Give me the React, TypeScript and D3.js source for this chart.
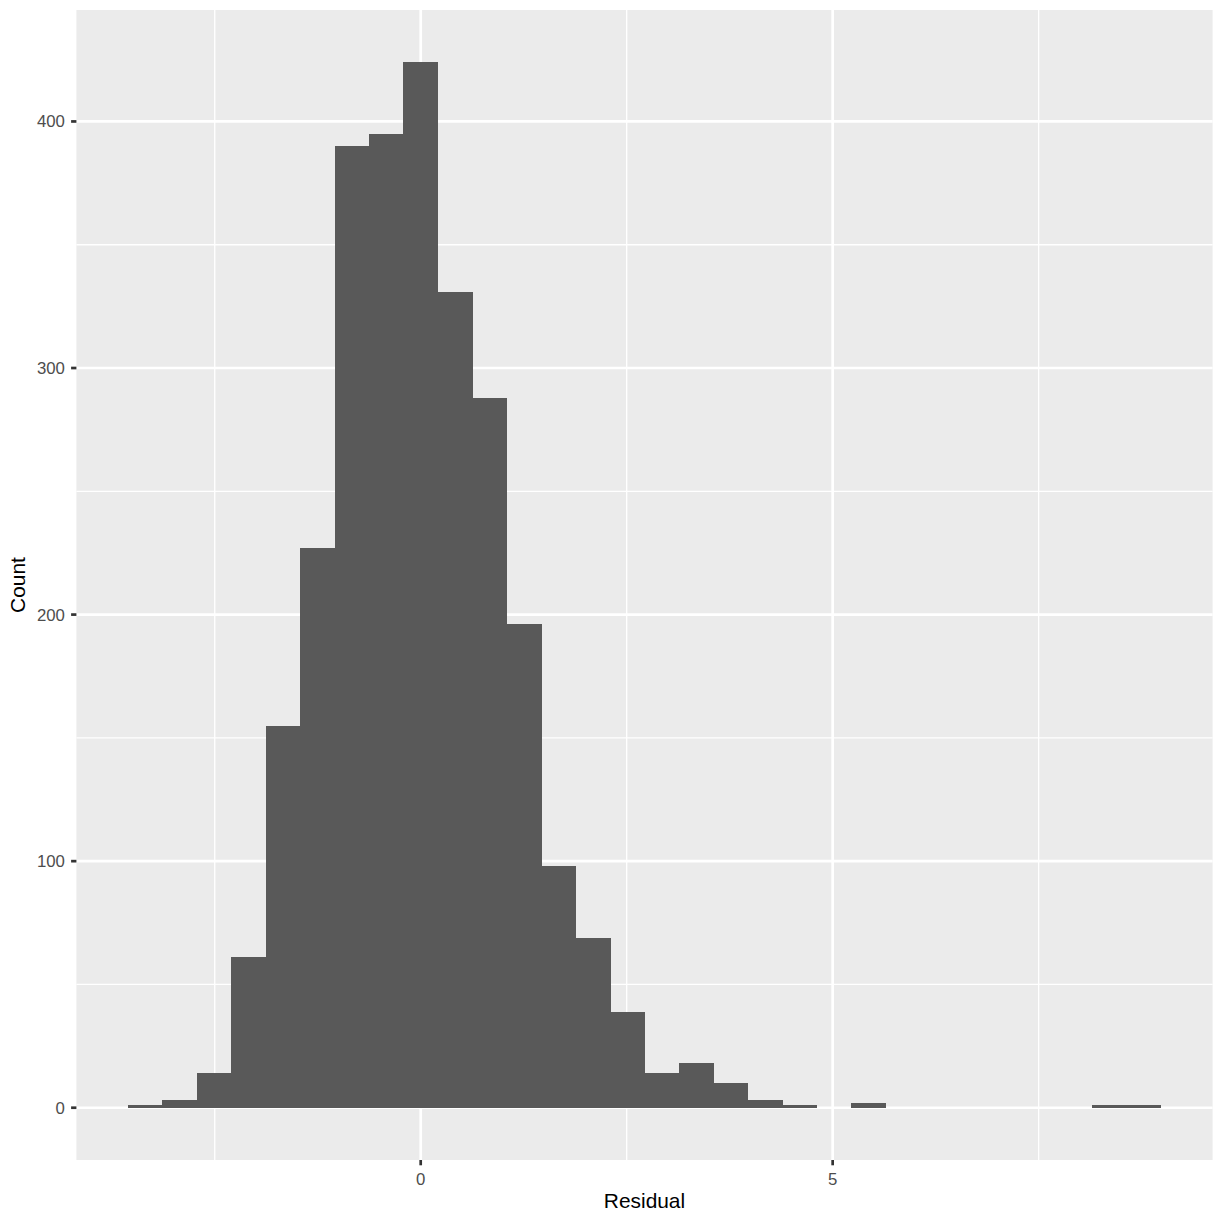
import React from "react";
import * as d3 from "d3";

// Histogram data (30 bins, equal width)
const binStart = -3.552;
const binWidth = 0.41788;
const counts = [1, 3, 14, 61, 155, 227, 390, 395, 424, 331, 288, 196, 98, 69, 39, 14, 18, 10, 3, 1, 0, 2, 0, 0, 0, 0, 0, 0, 1, 1];

const xMajorTicks = [0, 5];
const xMinorTicks = [-2.5, 2.5, 7.5];
const yMajorTicks = [0, 100, 200, 300, 400];
const yMinorTicks = [50, 150, 250, 350];

const xTitle = "Residual";
const yTitle = "Count";

const W = 1224;
const H = 1224;
const panel = { left: 76.4, right: 1212.6, top: 10, bottom: 1160 };
const FONT = "'Liberation Sans', Arial, Helvetica, sans-serif";

export default function App() {
  const bins = counts.map((c, i) => ({
    x0: binStart + i * binWidth,
    x1: binStart + (i + 1) * binWidth,
    count: c,
  }));
  const xMin = bins[0].x0;
  const xMax = bins[bins.length - 1].x1;
  const xPad = (xMax - xMin) * 0.05;
  const yMax = d3.max(counts) as number;
  const yPad = yMax * 0.05;

  const x = d3.scaleLinear().domain([xMin - xPad, xMax + xPad]).range([panel.left, panel.right]);
  const y = d3.scaleLinear().domain([-yPad, yMax + yPad]).range([panel.bottom, panel.top]);

  const tickFont = 16.8;
  const titleFont = 20.9;

  return (
    <svg width={W} height={H} style={{ position: "absolute", left: 0, top: 0 }} xmlns="http://www.w3.org/2000/svg">
      <rect x={0} y={0} width={W} height={H} fill="#ffffff" />
      <rect x={panel.left} y={panel.top} width={panel.right - panel.left} height={panel.bottom - panel.top} fill="#EBEBEB" />
      {/* minor grid */}
      {yMinorTicks.map((t) => (
        <line key={"ym" + t} x1={panel.left} x2={panel.right} y1={y(t)} y2={y(t)} stroke="#ffffff" strokeWidth={1.35} />
      ))}
      {xMinorTicks.map((t) => (
        <line key={"xm" + t} y1={panel.top} y2={panel.bottom} x1={x(t)} x2={x(t)} stroke="#ffffff" strokeWidth={1.35} />
      ))}
      {/* major grid */}
      {yMajorTicks.map((t) => (
        <line key={"yM" + t} x1={panel.left} x2={panel.right} y1={y(t)} y2={y(t)} stroke="#ffffff" strokeWidth={2.7} />
      ))}
      {xMajorTicks.map((t) => (
        <line key={"xM" + t} y1={panel.top} y2={panel.bottom} x1={x(t)} x2={x(t)} stroke="#ffffff" strokeWidth={2.7} />
      ))}
      {/* bars */}
      <g shapeRendering="crispEdges">
        {bins.filter((b) => b.count > 0).map((b, i) => (
          <rect
            key={"b" + i}
            x={x(b.x0)}
            width={x(b.x1) - x(b.x0) + 0.5}
            y={y(b.count)}
            height={y(0) - y(b.count)}
            fill="#595959"
          />
        ))}
      </g>
      {/* y axis ticks & labels */}
      {yMajorTicks.map((t) => (
        <g key={"yt" + t}>
          <line x1={panel.left - 5.3} x2={panel.left} y1={y(t)} y2={y(t)} stroke="#333333" strokeWidth={2.7} />
          <text x={panel.left - 11.5} y={y(t) + 6} textAnchor="end" fontFamily={FONT} fontSize={tickFont} fill="#4D4D4D">
            {t}
          </text>
        </g>
      ))}
      {/* x axis ticks & labels */}
      {xMajorTicks.map((t) => (
        <g key={"xt" + t}>
          <line x1={x(t)} x2={x(t)} y1={panel.bottom} y2={panel.bottom + 5.3} stroke="#333333" strokeWidth={2.7} />
          <text x={x(t)} y={1185} textAnchor="middle" fontFamily={FONT} fontSize={tickFont} fill="#4D4D4D">
            {t}
          </text>
        </g>
      ))}
      {/* titles */}
      <text x={(panel.left + panel.right) / 2} y={1208} textAnchor="middle" fontFamily={FONT} fontSize={titleFont} fill="#000000">
        {xTitle}
      </text>
      <text
        transform={`translate(24.5, ${(panel.top + panel.bottom) / 2}) rotate(-90)`}
        textAnchor="middle"
        fontFamily={FONT}
        fontSize={titleFont}
        fill="#000000"
      >
        {yTitle}
      </text>
    </svg>
  );
}
